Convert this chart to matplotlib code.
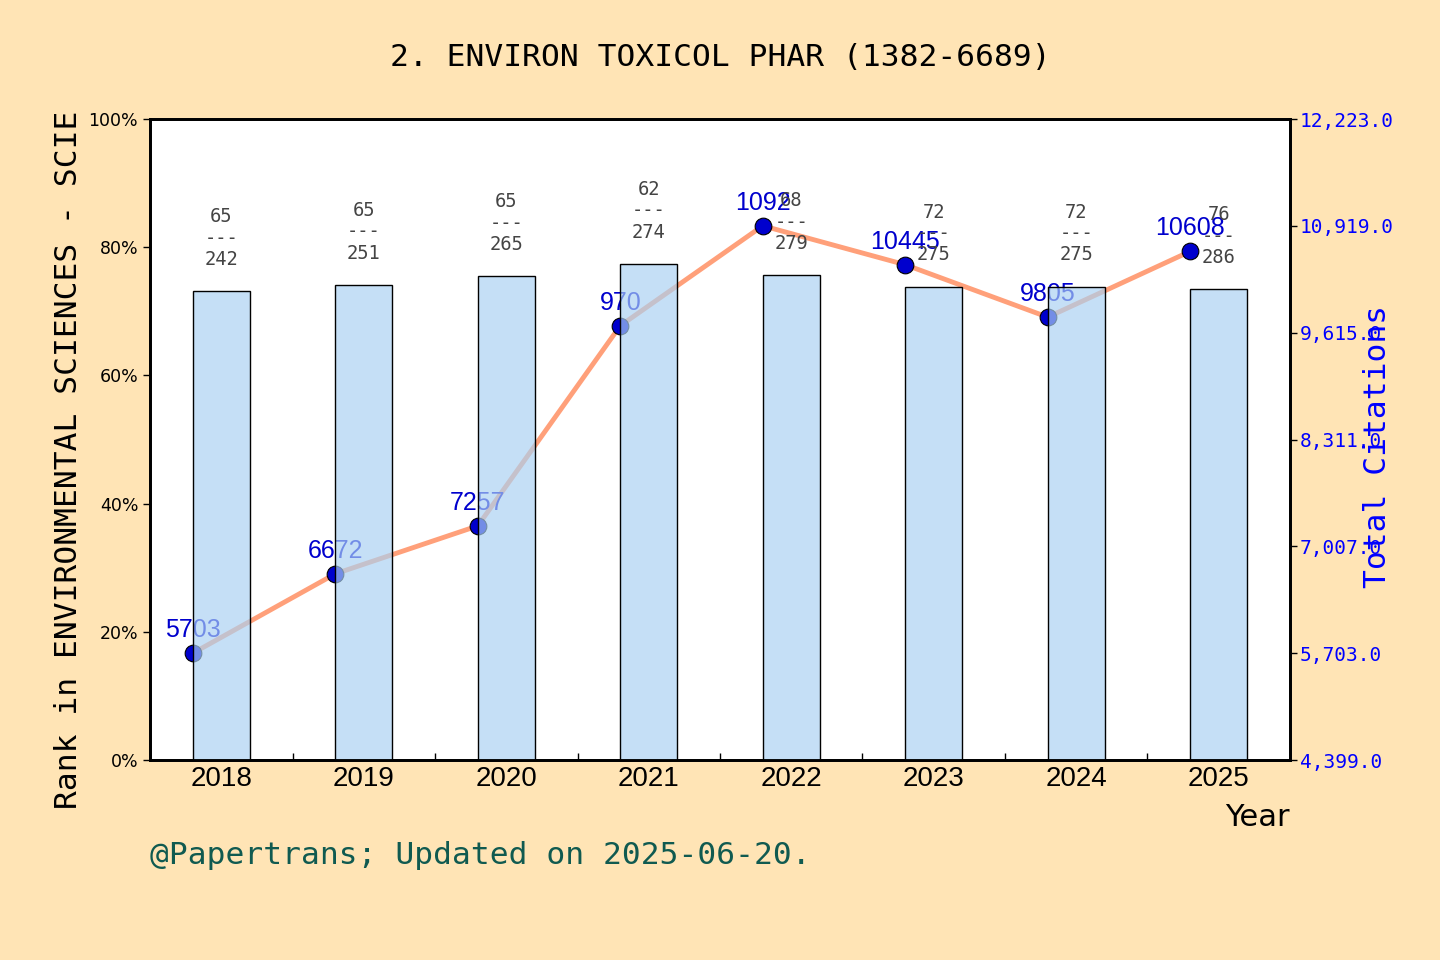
import numpy as np
import matplotlib
matplotlib.use("Agg")
import matplotlib.pyplot as plt

# data
years = ["2018", "2019", "2020", "2021", "2022", "2023", "2024", "2025"]
ranks = [65, 65, 65, 62, 68, 72, 72, 76]
totals = [242, 251, 265, 274, 279, 275, 275, 286]
citations = [5703, 6672, 7257, 9700, 10920, 10445, 9805, 10608]
citation_labels = ["5703", "6672", "7257", "970", "1092", "10445", "9805", "10608"]
cite_ticks = [4399.0, 5703.0, 7007.0, 8311.0, 9615.0, 10919.0, 12223.0]
pct_ticks = [0.0, 0.2, 0.4, 0.6, 0.8, 1.0]

BG = "#FFE4B5"
MONO = "DejaVu Sans Mono"

fig = plt.figure(figsize=(14.4, 9.6), dpi=100, facecolor=BG)
ax_bar = fig.add_axes([0.1042, 0.2083, 0.7916, 0.6677])
ax_line = ax_bar.twinx()

# bars sit on top of the line, semi transparent
ax_bar.set_zorder(ax_line.get_zorder() + 1)
ax_bar.patch.set_visible(False)
ax_line.patch.set_visible(True)
ax_line.patch.set_facecolor("white")

x = np.arange(len(years))
bar_w = 0.4
percentile = [1 - r / t for r, t in zip(ranks, totals)]

ax_bar.bar(x, percentile, width=bar_w, color=(0.667, 0.82, 0.953, 0.68),
           edgecolor="black", linewidth=1.0)
for xi, h, r, t in zip(x, percentile, ranks, totals):
    ax_bar.text(xi, h + 0.035, f"{r}\n---\n{t}", ha="center", va="bottom",
                fontsize=13.5, color="#444444", family=MONO,
                linespacing=1.15)

# citation line, drawn at the left edge of each bar
lx = x - bar_w / 2
ax_line.plot(lx, citations, color="#FFA07A", linewidth=3.5, zorder=2)
ax_line.plot(lx, citations, "o", color="#0000CD", markersize=12,
             markeredgecolor="black", markeredgewidth=0.8, zorder=3)
for xi, v, lab in zip(lx, citations, citation_labels):
    ax_line.annotate(lab, (xi, v), xytext=(0, 8), textcoords="offset points",
                     ha="center", va="bottom", fontsize=18, color="#0000CD",
                     family="Liberation Sans")

ax_bar.set_xlim(-0.5, len(years) - 0.5)
ax_bar.set_ylim(0, 1)
ax_line.set_ylim(cite_ticks[0], cite_ticks[-1])

ax_bar.set_yticks(pct_ticks)
ax_bar.set_yticklabels([f"{int(p * 100)}%" for p in pct_ticks],
                       fontsize=12.5, family="DejaVu Sans")
ax_bar.tick_params(axis="y", direction="out", length=5, width=1)

ax_line.set_yticks(cite_ticks)
ax_line.set_yticklabels([f"{v:,.1f}" for v in cite_ticks], fontsize=14,
                        family=MONO, color="blue")
ax_line.tick_params(axis="y", direction="out", length=5, width=1, pad=2)

ax_bar.set_xticks(x)
ax_bar.set_xticklabels(years, fontsize=20, family="Liberation Sans")
ax_bar.set_xticks(x[:-1] + 0.5, minor=True)
ax_bar.tick_params(axis="x", which="major", length=0, pad=4)
ax_bar.tick_params(axis="x", which="minor", direction="in", length=5, width=1)

for a in (ax_bar, ax_line):
    for s in a.spines.values():
        s.set_linewidth(2)
        s.set_color("black")

ax_bar.set_ylabel("Rank in ENVIRONMENTAL SCIENCES - SCIE", fontsize=22.5,
                  family=MONO)
ax_bar.yaxis.set_label_coords(-0.059, 0.468)
ax_line.set_ylabel("Total Citations", fontsize=22.5, family=MONO, color="blue")
ax_line.yaxis.set_label_coords(1.064, 0.49)

fig.text(0.5, 1 - 57 / 960, "2. ENVIRON TOXICOL PHAR (1382-6689)",
         ha="center", va="center", fontsize=22.5, family=MONO)
fig.text(0.8958, 1 - 817 / 960, "Year", ha="right", va="center",
         fontsize=22, family="DejaVu Sans")
fig.text(150 / 1440, 1 - 855 / 960, "@Papertrans; Updated on 2025-06-20.",
         ha="left", va="center", fontsize=22.5, family=MONO, color="#105a50")

fig.savefig("out.png", dpi=100, facecolor=BG)
